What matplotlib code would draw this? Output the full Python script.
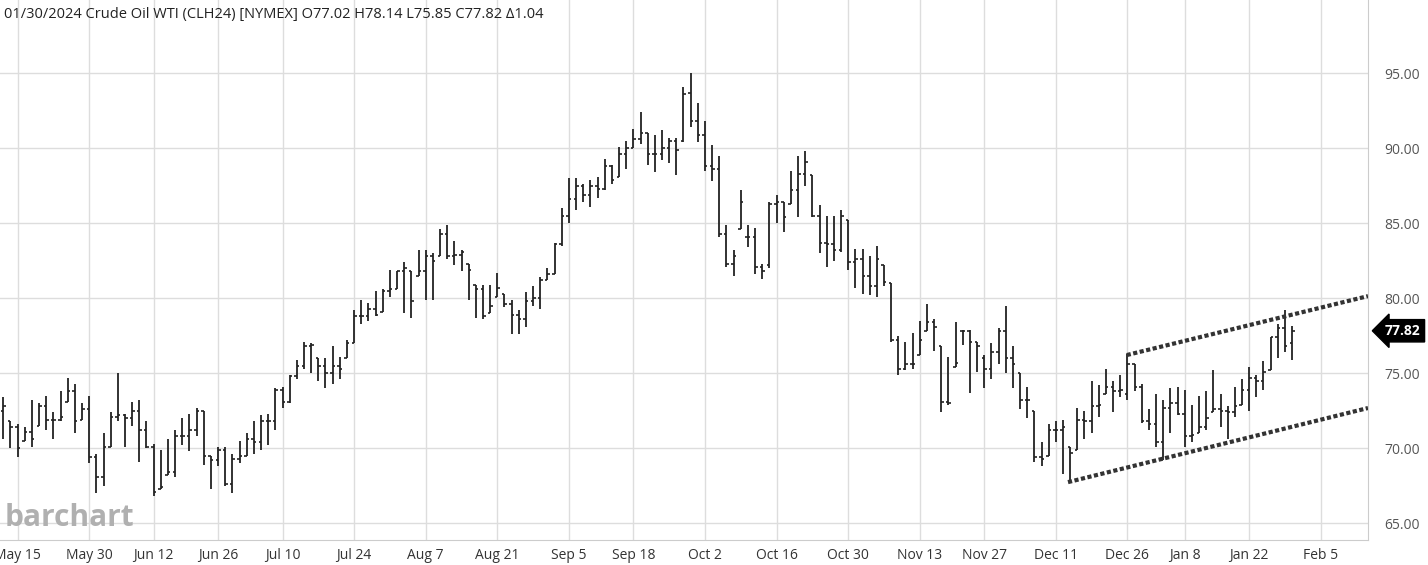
import numpy as np
import pandas as pd
import matplotlib
matplotlib.use("Agg")
import matplotlib.pyplot as plt

highs = [73.4,71.8,71.6,71.4,73.2,73.0,73.5,72.4,73.8,74.7,74.3,73.0,73.5,69.6,71.0,72.4,75.0,72.3,73.1,73.2,
         71.8,70.3,69.9,70.6,71.2,72.0,72.3,72.7,72.5,69.5,70.1,70.1,69.6,70.5,71.0,71.8,72.2,72.3,74.0,74.1,
         74.9,75.9,77.1,77.0,76.0,76.0,76.8,76.1,77.2,79.2,79.9,79.7,80.5,80.6,81.9,81.8,82.4,81.8,83.2,83.2,
         83.0,84.6,84.9,83.8,83.2,82.3,80.9,80.9,80.9,81.7,80.3,79.9,79.2,80.4,80.8,81.4,82.0,83.7,86.0,88.0,
         88.0,87.6,87.9,88.1,89.3,88.9,90.1,90.5,91.3,92.4,91.0,90.9,91.2,90.7,90.7,94.1,95.0,93.0,91.8,90.2,
         89.5,84.9,83.2,87.2,84.9,84.7,82.3,86.4,86.9,86.4,88.5,89.5,89.8,88.2,86.2,85.5,85.5,85.9,85.2,83.3,
         83.3,82.8,83.5,82.2,81.0,77.5,77.1,77.7,78.5,79.6,78.6,76.8,76.1,78.4,77.9,77.9,77.1,76.2,77.0,78.0,
         79.5,76.8,75.0,74.1,72.5,70.4,71.6,71.8,71.9,70.1,72.7,72.5,74.5,74.2,75.3,74.5,74.9,76.3,75.6,74.3,
         72.6,73.6,73.2,74.0,74.1,73.9,72.9,73.5,73.8,75.2,73.6,72.8,74.1,74.6,75.4,74.9,75.8,77.4,78.3,79.2,
         78.14]
lows = [70.6,70.0,69.4,70.5,70.1,71.5,71.2,70.6,71.8,73.1,71.0,71.9,69.0,67.0,67.5,70.1,71.8,70.1,71.5,69.1,
        70.0,66.8,67.3,68.2,68.1,70.2,69.8,70.8,68.9,67.3,68.8,67.5,67.0,69.0,69.5,69.6,69.9,70.2,71.2,72.7,
        73.0,74.6,75.3,75.0,74.5,74.0,74.3,74.6,76.0,77.0,78.3,78.5,78.8,79.1,80.1,80.6,79.0,78.7,81.5,79.9,
        79.9,82.8,82.6,82.2,81.8,79.9,78.7,78.6,79.0,80.1,79.4,77.6,77.6,78.1,79.5,79.3,81.2,81.6,83.5,85.0,
        85.9,86.4,86.1,86.7,87.2,87.6,88.1,88.6,90.0,90.3,88.9,88.4,89.2,89.0,88.2,90.4,91.4,90.4,88.5,87.8,
        84.1,82.1,81.5,84.6,83.4,81.6,81.3,82.0,85.0,84.4,86.3,85.4,87.5,85.4,83.0,82.1,82.5,83.1,81.9,80.7,
        80.3,80.2,80.1,80.8,77.1,74.9,75.2,75.3,76.2,77.8,76.5,72.4,72.9,75.4,76.9,73.7,75.1,74.0,74.6,75.6,
        75.0,74.0,72.6,72.0,69.1,68.8,69.5,70.4,68.3,67.8,69.9,70.6,71.0,72.1,73.6,72.4,73.4,73.2,73.8,71.7,
        71.2,70.1,69.2,71.0,72.2,70.1,70.4,71.0,71.2,72.4,71.4,70.6,72.1,72.9,72.5,73.4,73.9,75.2,76.0,76.4,
        75.85]
closes = [72.8,71.4,70.0,71.1,70.6,72.8,71.9,71.9,72.1,73.8,71.8,72.6,69.4,68.1,70.1,72.1,72.2,72.0,72.5,71.2,
          70.1,67.1,67.4,68.4,70.8,70.8,71.2,72.5,69.5,69.2,69.9,67.6,69.3,69.5,70.6,70.4,71.8,71.8,73.9,73.1,
          74.8,75.5,76.8,76.9,75.5,75.0,75.5,75.3,77.0,78.8,78.8,79.3,78.9,80.5,80.6,81.8,82.0,79.8,81.8,82.8,
          82.5,84.3,82.8,82.9,83.1,81.9,80.6,78.8,79.5,80.7,79.6,78.9,78.6,79.8,80.0,81.2,81.6,83.6,85.5,86.6,
          87.5,86.9,87.5,87.3,88.8,87.9,89.6,90.0,90.6,91.0,89.6,89.6,90.0,90.5,89.9,93.6,91.8,90.9,88.8,88.6,
          84.3,82.3,82.8,86.4,84.1,82.1,81.8,86.3,86.4,85.4,87.2,88.3,89.1,85.5,83.7,83.6,83.2,85.5,82.4,82.6,
          81.5,80.8,82.6,81.1,77.2,75.3,75.6,75.6,77.2,78.4,78.1,73.1,73.0,75.7,77.8,77.1,76.8,75.3,76.4,77.8,
          76.0,75.6,73.2,73.2,69.4,69.3,71.2,71.2,71.4,69.7,71.9,71.8,72.8,72.9,74.1,73.8,73.9,75.6,74.1,71.8,
          71.6,70.4,72.7,73.0,72.3,70.8,70.9,71.4,72.0,72.6,72.5,72.4,72.8,73.9,74.7,74.5,75.1,77.4,78.0,76.8,
          77.82]
opens = [72.5,72.8,71.4,70.0,71.1,70.6,72.8,71.9,71.9,72.1,73.8,71.8,72.6,69.4,68.1,70.1,72.1,72.2,72.0,72.5,
         71.2,70.1,67.1,67.4,68.4,70.8,70.8,71.2,72.5,69.5,69.2,69.9,67.6,69.3,69.5,70.6,70.4,71.8,71.8,73.9,
         73.1,74.8,75.5,76.8,76.9,75.5,75.0,75.5,75.3,77.0,78.8,78.8,79.3,78.9,80.5,80.6,81.8,82.0,79.8,81.8,
         82.8,82.5,84.3,82.8,82.9,83.1,81.9,80.6,78.8,79.5,80.7,79.6,78.9,78.6,79.8,80.0,81.2,81.6,83.6,85.5,
         86.6,87.5,86.9,87.5,87.3,88.8,87.9,89.6,90.0,90.6,91.0,89.6,89.6,90.0,90.5,90.5,93.7,91.8,90.9,88.8,
         88.6,84.3,82.3,84.6,84.1,84.1,82.1,82.2,86.3,86.4,85.4,87.2,88.3,89.1,85.5,83.7,83.6,83.2,85.5,82.4,
         82.6,81.5,80.8,82.6,81.1,77.2,75.3,75.6,75.6,77.2,78.4,76.8,73.1,75.4,77.8,77.8,77.1,76.0,75.3,76.4,
         77.8,76.0,75.0,73.2,72.5,69.4,69.5,71.2,71.2,71.4,69.9,71.9,71.8,72.8,73.6,74.1,73.8,73.6,75.6,74.1,
         71.8,71.6,70.4,72.7,73.0,72.3,70.8,70.9,71.4,72.0,72.6,72.5,72.4,72.8,73.9,74.7,74.5,75.2,77.4,78.0,
         77.02]

holidays = pd.to_datetime(["2023-05-29","2023-06-19","2023-07-04","2023-09-04","2023-11-23",
                           "2023-12-25","2024-01-01","2024-01-15","2024-02-19"])
days = pd.bdate_range("2023-05-11", "2024-02-28")
days = days[~days.isin(holidays)]

tick_dates = ["2023-05-15","2023-05-30","2023-06-12","2023-06-26","2023-07-10","2023-07-24","2023-08-07",
              "2023-08-21","2023-09-05","2023-09-18","2023-10-02","2023-10-16","2023-10-30","2023-11-13",
              "2023-11-27","2023-12-11","2023-12-26","2024-01-08","2024-01-22","2024-02-05"]
tick_labels = ["May 15","May 30","Jun 12","Jun 26","Jul 10","Jul 24","Aug 7","Aug 21","Sep 5","Sep 18",
               "Oct 2","Oct 16","Oct 30","Nov 13","Nov 27","Dec 11","Dec 26","Jan 8","Jan 22","Feb 5"]

upper_x = [156.9, 190.6]; upper_y = [76.2, 80.13]
lower_x = [148.7, 190.6]; lower_y = [67.73, 72.67]

n = len(closes)
x = np.arange(n)
H = np.array(highs); L = np.array(lows); C = np.array(closes)
O = np.clip(np.array(opens), L, H)

fig = plt.figure(figsize=(14.28, 5.65), dpi=100)
ax = fig.add_axes([0, 0.0442, 1368/1428, 0.9558])
ax.set_xlim(-0.46, 190.6)
ax.set_ylim(63.87, 99.87)

bar_col = "#222222"
ax.vlines(x, L, H, color=bar_col, lw=1.3, zorder=3)
ax.hlines(O, x - 0.35, x, color=bar_col, lw=1.2, zorder=3)
ax.hlines(C, x, x + 0.35, color=bar_col, lw=1.2, zorder=3)

ax.plot(upper_x, upper_y, color="#333333", lw=3, ls=(0, (1, 0.6)), zorder=4)
ax.plot(lower_x, lower_y, color="#333333", lw=3, ls=(0, (1, 0.6)), zorder=4)

tpos = [days.get_loc(pd.Timestamp(d)) for d in tick_dates]
ax.set_xticks(tpos)
ax.set_xticklabels(tick_labels, fontsize=10, color="#333333", family="Open Sans")
yt = [65, 70, 75, 80, 85, 90, 95]
ax.set_yticks(yt)
ax.set_yticklabels([f"{v:.2f}" for v in yt], fontsize=10, color="#555555", family="Open Sans")
ax.yaxis.tick_right()
ax.tick_params(axis="both", length=0, pad=6)
ax.tick_params(axis="y", pad=12)
ax.grid(True, color="#dddddd", lw=1)
ax.set_axisbelow(True)
for s in ["top", "left"]:
    ax.spines[s].set_visible(False)
ax.spines["right"].set_color("#cccccc")
ax.spines["bottom"].set_color("#cccccc")

last = closes[-1]
ax.annotate(f"{last:.2f}", xy=(1.0, last), xycoords=("axes fraction", "data"),
            xytext=(12, 0), textcoords="offset points", va="center", ha="left",
            fontsize=10, fontweight="bold", color="white", family="Open Sans",
            bbox=dict(boxstyle="larrow,pad=0.3", fc="black", ec="black"), annotation_clip=False)

fig.text(0.003, 0.975, "01/30/2024 Crude Oil WTI (CLH24) [NYMEX] O77.02 H78.14 L75.85 C77.82 \u03941.04",
         fontsize=10.5, color="#222222", family="Open Sans", va="center")
fig.text(0.003, 0.083, "barchart", fontsize=21.5, color="#b0b0b0", fontweight="bold",
         family="Open Sans", va="center")

fig.savefig("out.png", dpi=100)
